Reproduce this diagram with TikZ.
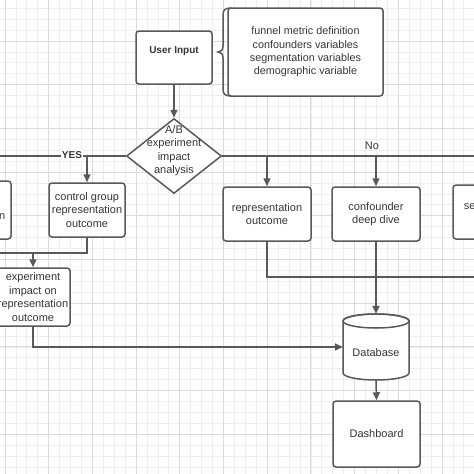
\documentclass[tikz,border=0pt]{standalone}
\usepackage{fontspec}
\setmainfont{Liberation Sans}
\usetikzlibrary{shapes.geometric,arrows.meta}
\definecolor{ln}{HTML}{595959}
\definecolor{tx}{HTML}{363636}
\definecolor{gmin}{HTML}{EEEEEE}
\definecolor{gmaj}{HTML}{DBDBDB}
\begin{document}
\begin{tikzpicture}[x=1pt,y=-1pt,
  box/.style={draw=ln, line width=1.5pt, rounded corners=3pt, fill=white, inner sep=0pt, text=tx, align=center, font=\fontsize{11}{13.5}\selectfont},
  txt/.style={text=tx, align=center, inner sep=0pt, font=\fontsize{11}{13.5}\selectfont},
  boldtxt/.style={text=tx, inner sep=0pt, font=\fontsize{10}{12}\selectfont\bfseries},
  conn/.style={draw=ln, line width=1.5pt},
  arr/.style={conn, -{Triangle[length=8pt,width=7pt]}},
  gminor/.style={draw=gmin, line width=0.8pt},
  gmajor/.style={draw=gmaj, line width=1pt}]
\useasboundingbox (0,0) rectangle (474,474);
\clip (0,0) rectangle (474,474);
\fill[white] (0,0) rectangle (474,474);
% grid
\foreach \i in {0,...,44} {
  \pgfmathsetmacro\gx{5+10.925*\i}
  \pgfmathsetmacro\gy{-2.7+10.925*\i}
  \draw[gminor] (\gx,0) -- (\gx,474);
  \draw[gminor] (0,\gy) -- (474,\gy);
}
\foreach \i in {0,...,11} {
  \pgfmathsetmacro\gx{5+43.7*\i}
  \pgfmathsetmacro\gy{-2.7+43.7*\i}
  \draw[gmajor] (\gx,0) -- (\gx,474);
  \draw[gmajor] (0,\gy) -- (474,\gy);
}
% nodes
\node[box, minimum width=76pt, minimum height=53pt] (ui) at (174,57.5) {};
\node[boldtxt] (uit) at (174,51) {User Input};
\node[box, minimum width=155pt, minimum height=88pt, font=\fontsize{10.8}{13.2}\selectfont] (note) at (305.5,52) {funnel metric definition\\confounders variables\\segmentation variables\\demographic variable};
\draw[conn] (231,8) .. controls (225,8) and (223,10) .. (223,15) -- (223,46) .. controls (223,50) and (221,52) .. (218,52) .. controls (221,52) and (223,54) .. (223,58) -- (223,89) .. controls (223,94) and (225,96) .. (231,96);
\node[diamond, draw=ln, line width=1.5pt, fill=white, minimum width=95pt, minimum height=75pt, inner sep=0pt] (ab) at (174,156) {};
\node[txt] (abt) at (174,150.5) {A/B\\experiment\\impact\\analysis};
\node[box, minimum width=82pt, minimum height=58pt] (lb) at (-30,210) {};
\node[txt] (lbt) at (-30,217) {representation};
\node[box, minimum width=76pt, minimum height=54pt] (cg) at (87,210) {control group\\representation\\outcome};
\node[box, minimum width=74pt, minimum height=58pt] (ei) at (33,297) {experiment\\impact on\\representation\\outcome};
\node[box, minimum width=88pt, minimum height=54pt] (ro) at (267,214) {representation\\outcome};
\node[box, minimum width=88pt, minimum height=54pt] (cd) at (376,214) {confounder\\deep dive};
\node[box, minimum width=88pt, minimum height=54pt] (sd) at (497,212) {segmentation\\\mbox{}};
% database
\node[minimum width=66pt, minimum height=66pt, inner sep=0pt] (db) at (376,347) {};
\filldraw[conn, fill=white] (343,321) -- (343,373) arc[start angle=180, end angle=0, x radius=33, y radius=7] -- (409,321) arc[start angle=0, end angle=-180, x radius=33, y radius=7] -- cycle;
\draw[conn] (376,321) ellipse[x radius=33, y radius=7];
\node[txt] (dbt) at (376,353) {Database};
\node[box, minimum width=87pt, minimum height=66pt] (dash) at (376.5,434) {Dashboard};
% connectors
\draw[arr] (ui.south) -- (ab.north);
\coordinate (yesend) at (0,156);
\coordinate (noend) at (474,156);
\draw[conn] (ab.west) -- (yesend);
\draw[arr] (ab.west) -| (cg.north);
\node[boldtxt, fill=white, inner sep=1pt] (yes) at (72,155) {YES};
\draw[conn] (ab.east) -- (noend);
\draw[arr] (ab.east) -| (ro.north);
\draw[arr] (ab.east) -| (cd.north);
\node[txt] (no) at (372,146) {No};
\coordinate (j1) at (33,253);
\draw[conn] (lb.south) |- (j1) -| (cg.south);
\draw[arr] (j1) -- (ei.north);
\draw[arr] (ei.south) |- (db.west);
\coordinate (j2) at (376,277);
\draw[conn] (ro.south) |- (j2);
\draw[conn] (sd.south) |- (j2);
\draw[conn] (cd.south) -- (j2);
\draw[arr] (j2) -- (db.north);
\draw[arr] (db.south) -- (dash.north);
\end{tikzpicture}
\end{document}
